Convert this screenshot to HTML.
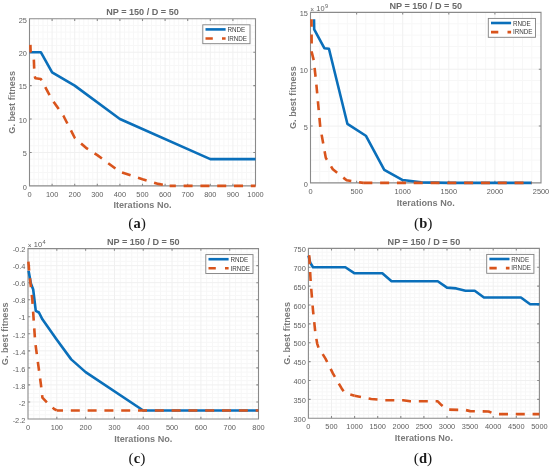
<!DOCTYPE html>
<html><head><meta charset="utf-8"><style>
html,body{margin:0;padding:0;background:#fff;width:550px;height:468px;overflow:hidden}
svg{display:block;will-change:transform}
text{font-family:"Liberation Sans",sans-serif}
.tk{font-size:7.4px;fill:#606060}
.sup{font-size:5.6px}
.ti{font-size:9.1px;font-weight:bold;fill:#6a6a6a}
.lb{font-size:9.1px;font-weight:bold;fill:#7a7a7a}
.lg{font-size:6.6px;fill:#3a3a3a}
.cap{font-family:"Liberation Serif",serif;font-size:15.5px;fill:#1a1a1a}
.cl{font-size:14.5px;font-weight:bold}
</style></head><body>
<svg width="550" height="468" viewBox="0 0 550 468">
<rect width="550" height="468" fill="#fff"/>
<path d="M34.02 18.8V185.9M38.54 18.8V185.9M43.06 18.8V185.9M47.58 18.8V185.9M56.62 18.8V185.9M61.14 18.8V185.9M65.66 18.8V185.9M70.18 18.8V185.9M79.22 18.8V185.9M83.74 18.8V185.9M88.26 18.8V185.9M92.78 18.8V185.9M101.82 18.8V185.9M106.34 18.8V185.9M110.86 18.8V185.9M115.38 18.8V185.9M124.42 18.8V185.9M128.94 18.8V185.9M133.46 18.8V185.9M137.98 18.8V185.9M147.02 18.8V185.9M151.54 18.8V185.9M156.06 18.8V185.9M160.58 18.8V185.9M169.62 18.8V185.9M174.14 18.8V185.9M178.66 18.8V185.9M183.18 18.8V185.9M192.22 18.8V185.9M196.74 18.8V185.9M201.26 18.8V185.9M205.78 18.8V185.9M214.82 18.8V185.9M219.34 18.8V185.9M223.86 18.8V185.9M228.38 18.8V185.9M237.42 18.8V185.9M241.94 18.8V185.9M246.46 18.8V185.9M250.98 18.8V185.9M29.5 179.22H255.5M29.5 172.53H255.5M29.5 165.85H255.5M29.5 159.16H255.5M29.5 145.8H255.5M29.5 139.11H255.5M29.5 132.43H255.5M29.5 125.74H255.5M29.5 112.38H255.5M29.5 105.69H255.5M29.5 99.01H255.5M29.5 92.32H255.5M29.5 78.96H255.5M29.5 72.27H255.5M29.5 65.59H255.5M29.5 58.9H255.5M29.5 45.54H255.5M29.5 38.85H255.5M29.5 32.17H255.5M29.5 25.48H255.5" stroke="#f7f7f7" stroke-width="1" fill="none"/>
<path d="M52.1 18.8V185.9M74.7 18.8V185.9M97.3 18.8V185.9M119.9 18.8V185.9M142.5 18.8V185.9M165.1 18.8V185.9M187.7 18.8V185.9M210.3 18.8V185.9M232.9 18.8V185.9M29.5 152.48H255.5M29.5 119.06H255.5M29.5 85.64H255.5M29.5 52.22H255.5" stroke="#f0f0f0" stroke-width="1" fill="none"/>
<path d="M29.5 18.8H255.5V185.9H29.5ZM52.1 185.9v-2.2M52.1 18.8v2.2M74.7 185.9v-2.2M74.7 18.8v2.2M97.3 185.9v-2.2M97.3 18.8v2.2M119.9 185.9v-2.2M119.9 18.8v2.2M142.5 185.9v-2.2M142.5 18.8v2.2M165.1 185.9v-2.2M165.1 18.8v2.2M187.7 185.9v-2.2M187.7 18.8v2.2M210.3 185.9v-2.2M210.3 18.8v2.2M232.9 185.9v-2.2M232.9 18.8v2.2M29.5 152.48h2.2M255.5 152.48h-2.2M29.5 119.06h2.2M255.5 119.06h-2.2M29.5 85.64h2.2M255.5 85.64h-2.2M29.5 52.22h2.2M255.5 52.22h-2.2" stroke="#8a8a8a" stroke-width="1.1" fill="none"/>
<polyline points="29.5,52.22 40.8,52.22 52.1,72.27 74.7,85.64 119.9,119.06 210.3,159.16 255.5,159.16" stroke="#0a6fba" stroke-width="2.6" fill="none" stroke-linejoin="round"/>
<polyline points="30.4,44.87 30.63,51.55 33.79,58.24 34.47,75.61 35.38,78.29 40.8,78.96 52.1,99.68 63.4,115.72 74.7,137.78 86,147.8 97.3,155.15 119.9,171.86 142.5,179.22 158.32,183.89 169.62,185.9" stroke="#d9541c" stroke-width="2.6" fill="none" stroke-dasharray="9 7.8" stroke-dashoffset="1.3" stroke-linejoin="round"/>
<polyline points="169.62,185.9 255.5,185.9" stroke="#d9541c" stroke-width="2.6" fill="none" stroke-dasharray="9 7.8" stroke-dashoffset="2.8" stroke-linejoin="round"/>
<text x="29.5" y="196.5" class="tk" text-anchor="middle">0</text>
<text x="52.1" y="196.5" class="tk" text-anchor="middle">100</text>
<text x="74.7" y="196.5" class="tk" text-anchor="middle">200</text>
<text x="97.3" y="196.5" class="tk" text-anchor="middle">300</text>
<text x="119.9" y="196.5" class="tk" text-anchor="middle">400</text>
<text x="142.5" y="196.5" class="tk" text-anchor="middle">500</text>
<text x="165.1" y="196.5" class="tk" text-anchor="middle">600</text>
<text x="187.7" y="196.5" class="tk" text-anchor="middle">700</text>
<text x="210.3" y="196.5" class="tk" text-anchor="middle">800</text>
<text x="232.9" y="196.5" class="tk" text-anchor="middle">900</text>
<text x="255.5" y="196.5" class="tk" text-anchor="middle">1000</text>
<text x="26.9" y="189.6" class="tk" text-anchor="end">0</text>
<text x="26.9" y="156.18" class="tk" text-anchor="end">5</text>
<text x="26.9" y="122.76" class="tk" text-anchor="end">10</text>
<text x="26.9" y="89.34" class="tk" text-anchor="end">15</text>
<text x="26.9" y="55.92" class="tk" text-anchor="end">20</text>
<text x="26.9" y="22.5" class="tk" text-anchor="end">25</text>
<text x="142.5" y="15.1" class="ti" text-anchor="middle">NP = 150 / D = 50</text>
<text x="142.5" y="208.1" class="lb" text-anchor="middle">Iterations No.</text>
<text transform="translate(15.3 102.35) rotate(-90)" class="lb" text-anchor="middle">G. best fitness</text>
<rect x="202.8" y="24.8" width="47.2" height="18.9" fill="#fff" stroke="#808080" stroke-width="0.9"/>
<path d="M205.5 29.4H225.6" stroke="#0a6fba" stroke-width="2.6"/>
<path d="M205.5 38.5H212.8M222 38.5H225.6" stroke="#d9541c" stroke-width="2.6"/>
<text x="227.4" y="32.2" class="lg" textLength="17.8" lengthAdjust="spacingAndGlyphs">RNDE</text>
<text x="227.4" y="40.7" class="lg" textLength="19.6" lengthAdjust="spacingAndGlyphs">IRNDE</text>
<text x="137" y="227.8" class="cap" text-anchor="middle">(<tspan class="cl">a</tspan>)</text>
<path d="M319.72 12.4V182.9M328.94 12.4V182.9M338.16 12.4V182.9M347.38 12.4V182.9M365.82 12.4V182.9M375.04 12.4V182.9M384.26 12.4V182.9M393.48 12.4V182.9M411.92 12.4V182.9M421.14 12.4V182.9M430.36 12.4V182.9M439.58 12.4V182.9M458.02 12.4V182.9M467.24 12.4V182.9M476.46 12.4V182.9M485.68 12.4V182.9M504.12 12.4V182.9M513.34 12.4V182.9M522.56 12.4V182.9M531.78 12.4V182.9M310.5 171.53H541M310.5 160.17H541M310.5 148.8H541M310.5 137.43H541M310.5 114.7H541M310.5 103.33H541M310.5 91.97H541M310.5 80.6H541M310.5 57.87H541M310.5 46.5H541M310.5 35.13H541M310.5 23.77H541" stroke="#f7f7f7" stroke-width="1" fill="none"/>
<path d="M356.6 12.4V182.9M402.7 12.4V182.9M448.8 12.4V182.9M494.9 12.4V182.9M310.5 126.07H541M310.5 69.23H541" stroke="#f0f0f0" stroke-width="1" fill="none"/>
<path d="M310.5 12.4H541V182.9H310.5ZM356.6 182.9v-2.2M356.6 12.4v2.2M402.7 182.9v-2.2M402.7 12.4v2.2M448.8 182.9v-2.2M448.8 12.4v2.2M494.9 182.9v-2.2M494.9 12.4v2.2M310.5 126.07h2.2M541 126.07h-2.2M310.5 69.23h2.2M541 69.23h-2.2" stroke="#8a8a8a" stroke-width="1.1" fill="none"/>
<polyline points="314,19.22 314.19,29.45 324.33,48.21 328.94,48.77 347.38,123.79 365.82,135.73 384.26,169.83 402.7,180.06 421.14,182.33 448.8,182.9 531.78,182.9" stroke="#0a6fba" stroke-width="2.6" fill="none" stroke-linejoin="round"/>
<polyline points="311.51,19.22 311.7,52.18 313.73,60.14 316.12,81.74 320.27,127.2 325.81,157.89 332.81,169.26 346.64,180.29 363.33,182.9" stroke="#d9541c" stroke-width="2.6" fill="none" stroke-dasharray="9 7.8" stroke-dashoffset="1.5" stroke-linejoin="round"/>
<polyline points="363.33,182.9 531.78,182.9" stroke="#d9541c" stroke-width="2.6" fill="none" stroke-dasharray="9 7.8" stroke-dashoffset="0" stroke-linejoin="round"/>
<text x="310.5" y="193.5" class="tk" text-anchor="middle">0</text>
<text x="356.6" y="193.5" class="tk" text-anchor="middle">500</text>
<text x="402.7" y="193.5" class="tk" text-anchor="middle">1000</text>
<text x="448.8" y="193.5" class="tk" text-anchor="middle">1500</text>
<text x="494.9" y="193.5" class="tk" text-anchor="middle">2000</text>
<text x="541" y="193.5" class="tk" text-anchor="middle">2500</text>
<text x="307.9" y="186.6" class="tk" text-anchor="end">0</text>
<text x="307.9" y="129.77" class="tk" text-anchor="end">5</text>
<text x="307.9" y="72.93" class="tk" text-anchor="end">10</text>
<text x="307.9" y="16.1" class="tk" text-anchor="end">15</text>
<text x="310.2" y="11" class="tk"><tspan dy="0.9" style="font-size:6.6px">&#215;</tspan><tspan dx="2.3" dy="-0.9">10</tspan><tspan class="sup" dy="-3.5" dx="0.3">9</tspan></text>
<text x="425.75" y="8.7" class="ti" text-anchor="middle">NP = 150 / D = 50</text>
<text x="425.75" y="205.6" class="lb" text-anchor="middle">Iterations No.</text>
<text transform="translate(295.5 97.65) rotate(-90)" class="lb" text-anchor="middle">G. best fitness</text>
<rect x="488.3" y="18.4" width="47.2" height="18.9" fill="#fff" stroke="#808080" stroke-width="0.9"/>
<path d="M491 23H511.1" stroke="#0a6fba" stroke-width="2.6"/>
<path d="M491 32.1H498.3M507.5 32.1H511.1" stroke="#d9541c" stroke-width="2.6"/>
<text x="512.9" y="25.8" class="lg" textLength="17.8" lengthAdjust="spacingAndGlyphs">RNDE</text>
<text x="512.9" y="34.3" class="lg" textLength="19.6" lengthAdjust="spacingAndGlyphs">IRNDE</text>
<text x="423.2" y="227.8" class="cap" text-anchor="middle">(<tspan class="cl">b</tspan>)</text>
<path d="M33.76 248.6V419M39.52 248.6V419M45.29 248.6V419M51.05 248.6V419M62.57 248.6V419M68.34 248.6V419M74.1 248.6V419M79.86 248.6V419M91.39 248.6V419M97.15 248.6V419M102.91 248.6V419M108.67 248.6V419M120.2 248.6V419M125.96 248.6V419M131.73 248.6V419M137.49 248.6V419M149.01 248.6V419M154.78 248.6V419M160.54 248.6V419M166.3 248.6V419M177.83 248.6V419M183.59 248.6V419M189.35 248.6V419M195.11 248.6V419M206.64 248.6V419M212.4 248.6V419M218.16 248.6V419M223.92 248.6V419M235.45 248.6V419M241.21 248.6V419M246.97 248.6V419M252.74 248.6V419M28 414.74H258.5M28 410.48H258.5M28 406.22H258.5M28 397.7H258.5M28 393.44H258.5M28 389.18H258.5M28 380.66H258.5M28 376.4H258.5M28 372.14H258.5M28 363.62H258.5M28 359.36H258.5M28 355.1H258.5M28 346.58H258.5M28 342.32H258.5M28 338.06H258.5M28 329.54H258.5M28 325.28H258.5M28 321.02H258.5M28 312.5H258.5M28 308.24H258.5M28 303.98H258.5M28 295.46H258.5M28 291.2H258.5M28 286.94H258.5M28 278.42H258.5M28 274.16H258.5M28 269.9H258.5M28 261.38H258.5M28 257.12H258.5M28 252.86H258.5" stroke="#f7f7f7" stroke-width="1" fill="none"/>
<path d="M56.81 248.6V419M85.62 248.6V419M114.44 248.6V419M143.25 248.6V419M172.06 248.6V419M200.88 248.6V419M229.69 248.6V419M28 401.96H258.5M28 384.92H258.5M28 367.88H258.5M28 350.84H258.5M28 333.8H258.5M28 316.76H258.5M28 299.72H258.5M28 282.68H258.5M28 265.64H258.5" stroke="#f0f0f0" stroke-width="1" fill="none"/>
<path d="M28 248.6H258.5V419H28ZM56.81 419v-2.2M56.81 248.6v2.2M85.62 419v-2.2M85.62 248.6v2.2M114.44 419v-2.2M114.44 248.6v2.2M143.25 419v-2.2M143.25 248.6v2.2M172.06 419v-2.2M172.06 248.6v2.2M200.88 419v-2.2M200.88 248.6v2.2M229.69 419v-2.2M229.69 248.6v2.2M28 401.96h2.2M258.5 401.96h-2.2M28 384.92h2.2M258.5 384.92h-2.2M28 367.88h2.2M258.5 367.88h-2.2M28 350.84h2.2M258.5 350.84h-2.2M28 333.8h2.2M258.5 333.8h-2.2M28 316.76h2.2M258.5 316.76h-2.2M28 299.72h2.2M258.5 299.72h-2.2M28 282.68h2.2M258.5 282.68h-2.2M28 265.64h2.2M258.5 265.64h-2.2" stroke="#8a8a8a" stroke-width="1.1" fill="none"/>
<polyline points="28.58,270.75 30.88,283.53 33.19,289.5 35.78,310.8 38.95,312.5 42.41,319.32 56.81,339.76 71.22,359.36 85.62,372.14 143.25,410.48 258.5,410.48" stroke="#0a6fba" stroke-width="2.6" fill="none" stroke-linejoin="round"/>
<polyline points="28.29,260.53 29.44,274.16 32.32,299.72 35.2,342.32 38.08,363.62 40.97,384.92 42.41,397.7 48.17,403.66 53.93,408.78 56.81,410.48" stroke="#d9541c" stroke-width="2.6" fill="none" stroke-dasharray="9 7.8" stroke-dashoffset="-1" stroke-linejoin="round"/>
<polyline points="56.81,410.48 258.5,410.48" stroke="#d9541c" stroke-width="2.6" fill="none" stroke-dasharray="9 7.8" stroke-dashoffset="2.8" stroke-linejoin="round"/>
<text x="28" y="429.6" class="tk" text-anchor="middle">0</text>
<text x="56.81" y="429.6" class="tk" text-anchor="middle">100</text>
<text x="85.62" y="429.6" class="tk" text-anchor="middle">200</text>
<text x="114.44" y="429.6" class="tk" text-anchor="middle">300</text>
<text x="143.25" y="429.6" class="tk" text-anchor="middle">400</text>
<text x="172.06" y="429.6" class="tk" text-anchor="middle">500</text>
<text x="200.88" y="429.6" class="tk" text-anchor="middle">600</text>
<text x="229.69" y="429.6" class="tk" text-anchor="middle">700</text>
<text x="258.5" y="429.6" class="tk" text-anchor="middle">800</text>
<text x="25.4" y="422.7" class="tk" text-anchor="end">-2.2</text>
<text x="25.4" y="405.66" class="tk" text-anchor="end">-2</text>
<text x="25.4" y="388.62" class="tk" text-anchor="end">-1.8</text>
<text x="25.4" y="371.58" class="tk" text-anchor="end">-1.6</text>
<text x="25.4" y="354.54" class="tk" text-anchor="end">-1.4</text>
<text x="25.4" y="337.5" class="tk" text-anchor="end">-1.2</text>
<text x="25.4" y="320.46" class="tk" text-anchor="end">-1</text>
<text x="25.4" y="303.42" class="tk" text-anchor="end">-0.8</text>
<text x="25.4" y="286.38" class="tk" text-anchor="end">-0.6</text>
<text x="25.4" y="269.34" class="tk" text-anchor="end">-0.4</text>
<text x="25.4" y="252.3" class="tk" text-anchor="end">-0.2</text>
<text x="27.7" y="247.2" class="tk"><tspan dy="0.9" style="font-size:6.6px">&#215;</tspan><tspan dx="2.3" dy="-0.9">10</tspan><tspan class="sup" dy="-3.5" dx="0.3">4</tspan></text>
<text x="143.25" y="244.9" class="ti" text-anchor="middle">NP = 150 / D = 50</text>
<text x="143.25" y="441.8" class="lb" text-anchor="middle">Iterations No.</text>
<text transform="translate(7.9 333.8) rotate(-90)" class="lb" text-anchor="middle">G. best fitness</text>
<rect x="205.8" y="254.6" width="47.2" height="18.9" fill="#fff" stroke="#808080" stroke-width="0.9"/>
<path d="M208.5 259.2H228.6" stroke="#0a6fba" stroke-width="2.6"/>
<path d="M208.5 268.3H215.8M225 268.3H228.6" stroke="#d9541c" stroke-width="2.6"/>
<text x="230.4" y="262" class="lg" textLength="17.8" lengthAdjust="spacingAndGlyphs">RNDE</text>
<text x="230.4" y="270.5" class="lg" textLength="19.6" lengthAdjust="spacingAndGlyphs">IRNDE</text>
<text x="137" y="462.8" class="cap" text-anchor="middle">(<tspan class="cl">c</tspan>)</text>
<path d="M313.02 248.4V418.3M317.64 248.4V418.3M322.26 248.4V418.3M326.88 248.4V418.3M336.12 248.4V418.3M340.74 248.4V418.3M345.36 248.4V418.3M349.98 248.4V418.3M359.22 248.4V418.3M363.84 248.4V418.3M368.46 248.4V418.3M373.08 248.4V418.3M382.32 248.4V418.3M386.94 248.4V418.3M391.56 248.4V418.3M396.18 248.4V418.3M405.42 248.4V418.3M410.04 248.4V418.3M414.66 248.4V418.3M419.28 248.4V418.3M428.52 248.4V418.3M433.14 248.4V418.3M437.76 248.4V418.3M442.38 248.4V418.3M451.62 248.4V418.3M456.24 248.4V418.3M460.86 248.4V418.3M465.48 248.4V418.3M474.72 248.4V418.3M479.34 248.4V418.3M483.96 248.4V418.3M488.58 248.4V418.3M497.82 248.4V418.3M502.44 248.4V418.3M507.06 248.4V418.3M511.68 248.4V418.3M520.92 248.4V418.3M525.54 248.4V418.3M530.16 248.4V418.3M534.78 248.4V418.3M308.4 414.52H539.4M308.4 410.75H539.4M308.4 406.97H539.4M308.4 403.2H539.4M308.4 395.65H539.4M308.4 391.87H539.4M308.4 388.1H539.4M308.4 384.32H539.4M308.4 376.77H539.4M308.4 372.99H539.4M308.4 369.22H539.4M308.4 365.44H539.4M308.4 357.89H539.4M308.4 354.12H539.4M308.4 350.34H539.4M308.4 346.56H539.4M308.4 339.01H539.4M308.4 335.24H539.4M308.4 331.46H539.4M308.4 327.69H539.4M308.4 320.14H539.4M308.4 316.36H539.4M308.4 312.58H539.4M308.4 308.81H539.4M308.4 301.26H539.4M308.4 297.48H539.4M308.4 293.71H539.4M308.4 289.93H539.4M308.4 282.38H539.4M308.4 278.6H539.4M308.4 274.83H539.4M308.4 271.05H539.4M308.4 263.5H539.4M308.4 259.73H539.4M308.4 255.95H539.4M308.4 252.18H539.4" stroke="#f7f7f7" stroke-width="1" fill="none"/>
<path d="M331.5 248.4V418.3M354.6 248.4V418.3M377.7 248.4V418.3M400.8 248.4V418.3M423.9 248.4V418.3M447 248.4V418.3M470.1 248.4V418.3M493.2 248.4V418.3M516.3 248.4V418.3M308.4 399.42H539.4M308.4 380.54H539.4M308.4 361.67H539.4M308.4 342.79H539.4M308.4 323.91H539.4M308.4 305.03H539.4M308.4 286.16H539.4M308.4 267.28H539.4" stroke="#f0f0f0" stroke-width="1" fill="none"/>
<path d="M308.4 248.4H539.4V418.3H308.4ZM331.5 418.3v-2.2M331.5 248.4v2.2M354.6 418.3v-2.2M354.6 248.4v2.2M377.7 418.3v-2.2M377.7 248.4v2.2M400.8 418.3v-2.2M400.8 248.4v2.2M423.9 418.3v-2.2M423.9 248.4v2.2M447 418.3v-2.2M447 248.4v2.2M470.1 418.3v-2.2M470.1 248.4v2.2M493.2 418.3v-2.2M493.2 248.4v2.2M516.3 418.3v-2.2M516.3 248.4v2.2M308.4 399.42h2.2M539.4 399.42h-2.2M308.4 380.54h2.2M539.4 380.54h-2.2M308.4 361.67h2.2M539.4 361.67h-2.2M308.4 342.79h2.2M539.4 342.79h-2.2M308.4 323.91h2.2M539.4 323.91h-2.2M308.4 305.03h2.2M539.4 305.03h-2.2M308.4 286.16h2.2M539.4 286.16h-2.2M308.4 267.28h2.2M539.4 267.28h-2.2" stroke="#8a8a8a" stroke-width="1.1" fill="none"/>
<polyline points="308.49,255.57 310.25,262.75 313.02,267.28 345.36,267.28 354.6,273.32 382.32,273.32 391.56,281.25 437.76,281.25 447,287.67 456.24,288.42 465.48,290.69 474.72,290.69 483.96,297.48 520.92,297.48 530.16,304.28 539.4,304.28" stroke="#0a6fba" stroke-width="2.6" fill="none" stroke-linejoin="round"/>
<polyline points="309.23,255.2 310.71,282.38 313.02,310.7 315.33,332.59 317.18,343.54 318.56,347.7 325.49,358.65 332.89,373.37 341.66,388.47 344.9,393 354.6,395.65" stroke="#d9541c" stroke-width="2.6" fill="none" stroke-dasharray="9 7.8" stroke-dashoffset="0" stroke-linejoin="round"/>
<polyline points="354.6,395.65 371.23,399.04 384.63,400.18 403.11,400.18 410.04,401.31 437.76,401.31 441.46,405.09 447,409.62 465.48,409.99 470.1,411.13 488.58,411.5 495.51,414.15 539.4,414.15" stroke="#d9541c" stroke-width="2.6" fill="none" stroke-dasharray="9 7.8" stroke-dashoffset="2.5" stroke-linejoin="round"/>
<text x="308.4" y="428.9" class="tk" text-anchor="middle">0</text>
<text x="331.5" y="428.9" class="tk" text-anchor="middle">500</text>
<text x="354.6" y="428.9" class="tk" text-anchor="middle">1000</text>
<text x="377.7" y="428.9" class="tk" text-anchor="middle">1500</text>
<text x="400.8" y="428.9" class="tk" text-anchor="middle">2000</text>
<text x="423.9" y="428.9" class="tk" text-anchor="middle">2500</text>
<text x="447" y="428.9" class="tk" text-anchor="middle">3000</text>
<text x="470.1" y="428.9" class="tk" text-anchor="middle">3500</text>
<text x="493.2" y="428.9" class="tk" text-anchor="middle">4000</text>
<text x="516.3" y="428.9" class="tk" text-anchor="middle">4500</text>
<text x="539.4" y="428.9" class="tk" text-anchor="middle">5000</text>
<text x="305.8" y="422" class="tk" text-anchor="end">300</text>
<text x="305.8" y="403.12" class="tk" text-anchor="end">350</text>
<text x="305.8" y="384.24" class="tk" text-anchor="end">400</text>
<text x="305.8" y="365.37" class="tk" text-anchor="end">450</text>
<text x="305.8" y="346.49" class="tk" text-anchor="end">500</text>
<text x="305.8" y="327.61" class="tk" text-anchor="end">550</text>
<text x="305.8" y="308.73" class="tk" text-anchor="end">600</text>
<text x="305.8" y="289.86" class="tk" text-anchor="end">650</text>
<text x="305.8" y="270.98" class="tk" text-anchor="end">700</text>
<text x="305.8" y="252.1" class="tk" text-anchor="end">750</text>
<text x="423.9" y="244.7" class="ti" text-anchor="middle">NP = 150 / D = 50</text>
<text x="423.9" y="441.3" class="lb" text-anchor="middle">Iterations No.</text>
<text transform="translate(290.3 333.35) rotate(-90)" class="lb" text-anchor="middle">G. best fitness</text>
<rect x="486.7" y="254.4" width="47.2" height="18.9" fill="#fff" stroke="#808080" stroke-width="0.9"/>
<path d="M489.4 259H509.5" stroke="#0a6fba" stroke-width="2.6"/>
<path d="M489.4 268.1H496.7M505.9 268.1H509.5" stroke="#d9541c" stroke-width="2.6"/>
<text x="511.3" y="261.8" class="lg" textLength="17.8" lengthAdjust="spacingAndGlyphs">RNDE</text>
<text x="511.3" y="270.3" class="lg" textLength="19.6" lengthAdjust="spacingAndGlyphs">IRNDE</text>
<text x="423" y="462.8" class="cap" text-anchor="middle">(<tspan class="cl">d</tspan>)</text>
</svg>
</body></html>
